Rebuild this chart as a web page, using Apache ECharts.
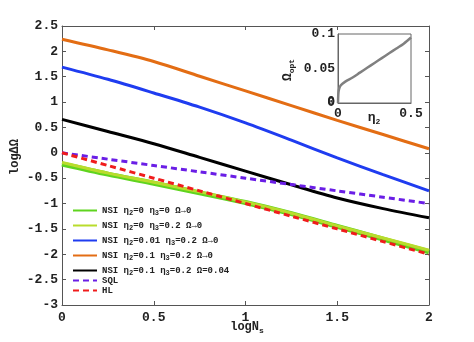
<!DOCTYPE html>
<html><head><meta charset="utf-8">
<script src="https://cdn.jsdelivr.net/npm/echarts@6/dist/echarts.min.js"></script>
<style>html,body{margin:0;padding:0;background:#fff}#c{width:474px;height:342px}</style>
</head><body><div id="c"></div>
<script>
// ---- data ----
const logN = [0, 0.25, 0.5, 0.75, 1, 1.25, 1.5, 1.75, 2];
const nsiGreen  = [-0.22, -0.42, -0.60, -0.79, -0.98, -1.20, -1.45, -1.70, -1.95];
const nsiYellow = [-0.19, -0.40, -0.58, -0.77, -0.97, -1.19, -1.44, -1.68, -1.92];
const nsiBlue   = [1.69, 1.45, 1.18, 0.90, 0.59, 0.25, -0.10, -0.43, -0.75];
const nsiOrange = [2.24, 2.03, 1.80, 1.51, 1.22, 0.93, 0.64, 0.36, 0.08];
const nsiBlack  = [0.66, 0.42, 0.18, -0.09, -0.36, -0.63, -0.89, -1.10, -1.28];
const sql = [0, -0.125, -0.25, -0.375, -0.5, -0.625, -0.75, -0.875, -1.0];
const hl  = [0, -0.25, -0.5, -0.75, -1.0, -1.25, -1.5, -1.75, -2.0];
const seriesNames = [
  'NSI η{s|2}=0 η{s|3}=0 Ω→0',
  'NSI η{s|2}=0 η{s|3}=0.2 Ω→0',
  'NSI η{s|2}=0.01 η{s|3}=0.2 Ω→0',
  'NSI η{s|2}=0.1 η{s|3}=0.2 Ω→0',
  'NSI η{s|2}=0.1 η{s|3}=0.2 Ω=0.04',
  'SQL', 'HL'
];
const eta2 = [0, 0.002, 0.005, 0.01, 0.02, 0.05, 0.1, 0.15, 0.2, 0.25, 0.3, 0.35, 0.4, 0.45, 0.5];
const omegaOpt = [0, 0.012, 0.018, 0.022, 0.026, 0.031, 0.037, 0.044, 0.051, 0.058, 0.065, 0.072, 0.079, 0.086, 0.095];
const insetOriginLabel = '0';

// ---- chart ----
const pair = (xs, ys) => xs.map((x, i) => [x, ys[i]]);
const FONT = 'Liberation Mono';
const axisCol = '#555';
const lbl = {fontFamily: FONT, fontWeight: 'bold', fontSize: 13, color: '#222'};
const mk = (name, data, color, width, dashed, z) => ({
  name, type: 'line', data: pair(logN, data), xAxisIndex: 0, yAxisIndex: 0,
  symbol: 'none', smooth: 0.3, z: z || 2,
  lineStyle: {color, width, type: dashed ? [6, 4] : 'solid'}, itemStyle: {color}
});
const legendText = {fontFamily: FONT, fontWeight: 'bold', fontSize: 9, color: '#222',
  rich: {s: {fontFamily: FONT, fontWeight: 'bold', fontSize: 7, verticalAlign: 'bottom', padding: [5, 0, 0, 0], color: '#222'}}};

const chart = echarts.init(document.getElementById('c'), null, {renderer: 'canvas'});
chart.setOption({
  animation: false,
  backgroundColor: '#fff',
  grid: [
    {left: 62, right: 45, top: 26, bottom: 37, show: false},
    {left: 338, top: 34, width: 73, height: 69, show: true, backgroundColor: '#fff', borderColor: '#666', borderWidth: 1, z: 10}
  ],
  xAxis: [
    {type: 'value', gridIndex: 0, min: 0, max: 2, interval: 0.5,
     axisLine: {show: true, onZero: false, lineStyle: {color: axisCol}},
     axisTick: {inside: true, length: 4, lineStyle: {color: axisCol}},
     axisLabel: Object.assign({margin: 6, formatter: v => String(v)}, lbl), splitLine: {show: false}},
    {type: 'value', gridIndex: 0, position: 'top', min: 0, max: 2, interval: 0.5,
     axisLine: {show: true, onZero: false, lineStyle: {color: axisCol}},
     axisTick: {inside: true, length: 4, lineStyle: {color: axisCol}},
     axisLabel: {show: false}, splitLine: {show: false}},
    {type: 'value', gridIndex: 1, min: 0, max: 0.5, interval: 0.5,
     axisLine: {show: true, onZero: false, lineStyle: {color: '#666'}},
     axisTick: {show: false},
     axisLabel: Object.assign({margin: 4, showMinLabel: true, hideOverlap: false, formatter: v => String(v)}, lbl), splitLine: {show: false}, z: 10}
  ],
  yAxis: [
    {type: 'value', gridIndex: 0, min: -3, max: 2.5, interval: 0.5,
     axisLine: {show: true, onZero: false, lineStyle: {color: axisCol}},
     axisTick: {inside: true, length: 4, lineStyle: {color: axisCol}},
     axisLabel: Object.assign({margin: 4, formatter: v => String(v)}, lbl), splitLine: {show: false}},
    {type: 'value', gridIndex: 0, position: 'right', min: -3, max: 2.5, interval: 0.5,
     axisLine: {show: true, onZero: false, lineStyle: {color: axisCol}},
     axisTick: {inside: true, length: 4, lineStyle: {color: axisCol}},
     axisLabel: {show: false}, splitLine: {show: false}},
    {type: 'value', gridIndex: 1, min: 0, max: 0.1, interval: 0.05,
     axisLine: {show: true, onZero: false, lineStyle: {color: '#666'}},
     axisTick: {show: false},
     axisLabel: Object.assign({margin: 3, showMinLabel: true, hideOverlap: false, formatter: v => String(v)}, lbl), splitLine: {show: false}, z: 10}
  ],
  legend: [
    {data: seriesNames.slice(0, 5), orient: 'vertical', left: 72, top: 206, itemWidth: 24, itemHeight: 10, itemGap: 4.5,
     itemStyle: {opacity: 0}, textStyle: legendText, padding: 0},
    {data: seriesNames.slice(5), orient: 'vertical', left: 72, top: 276, itemWidth: 24, itemHeight: 10, itemGap: 1,
     itemStyle: {opacity: 0}, textStyle: legendText, padding: 0}
  ],
  series: [
    mk(seriesNames[0], nsiGreen, '#5fd41f', 5, false, 2),
    mk(seriesNames[1], nsiYellow, '#b9dc2c', 3, false, 3),
    mk(seriesNames[2], nsiBlue, '#1f3cf0', 3, false, 3),
    mk(seriesNames[3], nsiOrange, '#e36d14', 3, false, 3),
    mk(seriesNames[4], nsiBlack, '#000000', 3, false, 3),
    mk(seriesNames[5], sql, '#6a1ee6', 3, true, 4),
    mk(seriesNames[6], hl, '#f01c1c', 3, true, 5),
    {type: 'line', xAxisIndex: 2, yAxisIndex: 2, data: pair(eta2, omegaOpt), symbol: 'none', smooth: 0.3, z: 11,
     lineStyle: {color: '#808080', width: 2.5}}
  ],
  graphic: [
    {type: 'text', x: 15, y: 157, rotation: Math.PI / 2, z: 20,
     style: {text: 'logΔΩ', fontFamily: FONT, fontWeight: 'bold', fontSize: 12, fill: '#222', align: 'center', verticalAlign: 'middle'}},
    {type: 'text', x: 247, y: 327, z: 20,
     style: {text: 'logN{s|s}', fontFamily: FONT, fontWeight: 'bold', fontSize: 12, fill: '#222', align: 'center', verticalAlign: 'middle',
       rich: {s: {fontFamily: FONT, fontWeight: 'bold', fontSize: 8, padding: [8, 0, 0, 0], fill: '#222'}}}},
    {type: 'text', x: 288, y: 70, rotation: Math.PI / 2, z: 20,
     style: {text: 'Ω{s|opt}', fontFamily: FONT, fontWeight: 'bold', fontSize: 13, fill: '#222', align: 'center', verticalAlign: 'middle',
       rich: {s: {fontFamily: FONT, fontWeight: 'bold', fontSize: 8, padding: [8, 0, 0, 0], fill: '#222'}}}},
    {type: 'text', x: 374, y: 118, z: 20,
     style: {text: 'η{s|2}', fontFamily: FONT, fontWeight: 'bold', fontSize: 13, fill: '#222', align: 'center', verticalAlign: 'middle',
       rich: {s: {fontFamily: FONT, fontWeight: 'bold', fontSize: 8, padding: [8, 0, 0, 0], fill: '#222'}}}},
    {type: 'text', x: 335, y: 102, z: 20,
     style: {text: insetOriginLabel, fontFamily: FONT, fontWeight: 'bold', fontSize: 13, fill: '#222', align: 'right', verticalAlign: 'middle'}}
  ]
});
</script></body></html>
